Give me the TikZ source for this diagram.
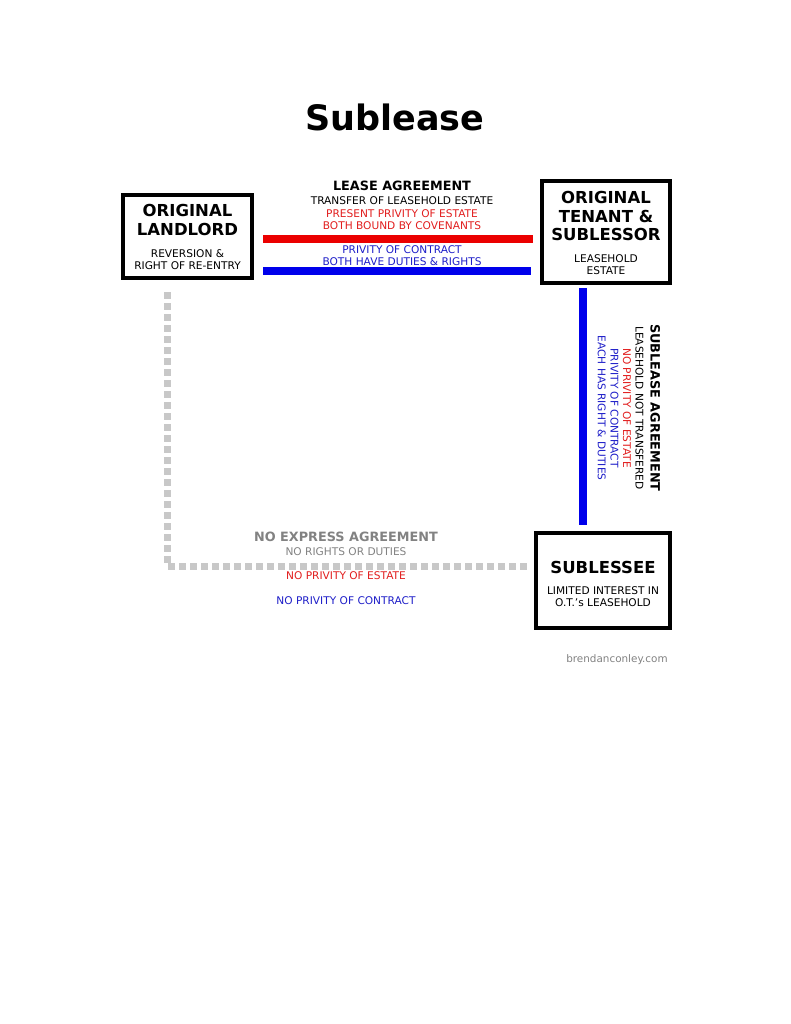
\documentclass[tikz,border=0pt]{standalone}
\usepackage{fontspec}
\setmainfont{DejaVu Sans}
\usepackage{tikz}

\definecolor{estatered}{RGB}{225,30,30}
\definecolor{estatebar}{RGB}{235,0,0}
\definecolor{contractblue}{RGB}{30,30,200}
\definecolor{contractbar}{RGB}{0,0,235}
\definecolor{nogray}{RGB}{130,130,130}
\definecolor{nodash}{RGB}{200,200,200}

\newcommand\partyfont{\fontsize{16.5}{18.7}\selectfont\bfseries}
\newcommand\notefont{\fontsize{10.6}{12.6}\selectfont}
\newcommand\headfont{\fontsize{12.8}{14}\selectfont\bfseries}

\tikzset{
  partybox/.style={draw=black,line width=4pt,outer sep=0pt,inner sep=0pt},
  partyname/.style={align=center,font=\partyfont,inner sep=0pt},
  notetext/.style={align=center,font=\notefont,inner sep=0pt},
  estateline/.style={draw=estatebar,line width=8pt},
  contractline/.style={draw=contractbar,line width=8pt},
  noline/.style={draw=nodash,line width=7pt,dash pattern=on 7pt off 4pt}
}

\begin{document}
\begin{tikzpicture}[x=1pt,y=-1pt]
\useasboundingbox (0,0) rectangle (791,1024);

\node[font=\fontsize{35}{40}\selectfont\bfseries] (title) at (395,117) {Sublease};

% parties
\node[partybox,minimum width=129pt,minimum height=83pt] (LL) at (187.5,236.5) {};
\node[partyname] (LLname) at (187.5,220) {ORIGINAL\\LANDLORD};
\node[notetext] (LLnote) at (187.5,259.5) {REVERSION \&\\RIGHT OF RE-ENTRY};

\node[partybox,minimum width=128pt,minimum height=102pt] (OT) at (606,232) {};
\node[partyname] (OTname) at (606,216) {ORIGINAL\\TENANT \&\\SUBLESSOR};
\node[notetext] (OTnote) at (606,264.5) {LEASEHOLD\\ESTATE};

\node[partybox,minimum width=134pt,minimum height=95pt] (SL) at (603,580.5) {};
\node[partyname] (SLname) at (603,567) {SUBLESSEE};
\node[notetext] (SLnote) at (603,596.5) {LIMITED INTEREST IN\\O.T.'s LEASEHOLD};

% lease agreement
\node[notetext] (lease) at (402,205.5)
  {{\headfont LEASE AGREEMENT}\\[1.5pt]TRANSFER OF LEASEHOLD ESTATE\\\textcolor{estatered}{PRESENT PRIVITY OF ESTATE}\\\textcolor{estatered}{BOTH BOUND BY COVENANTS}};
\node[notetext,text=contractblue] (contract) at (402,255.5)
  {PRIVITY OF CONTRACT\\BOTH HAVE DUTIES \& RIGHTS};
\path[estateline,shorten <=11pt,shorten >=9pt] ([yshift=-2.5pt]LL.east) edge ([yshift=-2.5pt]LL.east -| OT.west);
\path[contractline,shorten <=11pt,shorten >=11pt] ([yshift=-34.5pt]LL.east) edge ([yshift=-34.5pt]LL.east -| OT.west);

% sublease agreement
\path[contractline,shorten <=5pt,shorten >=8pt] ([xshift=-23pt]OT.south) edge ([xshift=-23pt]OT.south |- SL.north);
\node[notetext,rotate=-90] (sublease) at (629,408)
  {{\headfont SUBLEASE AGREEMENT}\\[2.4pt]LEASEHOLD NOT TRANSFERED\\\textcolor{estatered}{NO PRIVITY OF ESTATE}\\\textcolor{contractblue}{PRIVITY OF CONTRACT}\\\textcolor{contractblue}{EACH HAS RIGHT \& DUTIES}};

% no express agreement
\draw[noline,shorten <=14pt,shorten >=6pt] ([xshift=-20.5pt]LL.south) |- ([yshift=14.5pt]SL.west);
\node[notetext,text=nogray] (noexpress) at (346,544)
  {{\headfont NO EXPRESS AGREEMENT}\\[1.5pt]NO RIGHTS OR DUTIES};
\node[notetext,text=estatered] (noestate) at (346,576) {NO PRIVITY OF ESTATE};
\node[notetext,text=contractblue] (nocontract) at (346,601) {NO PRIVITY OF CONTRACT};

\node[notetext,text=nogray,font=\fontsize{10.4}{12}\selectfont] (site) at (617,660) {brendanconley.com};
\end{tikzpicture}
\end{document}
